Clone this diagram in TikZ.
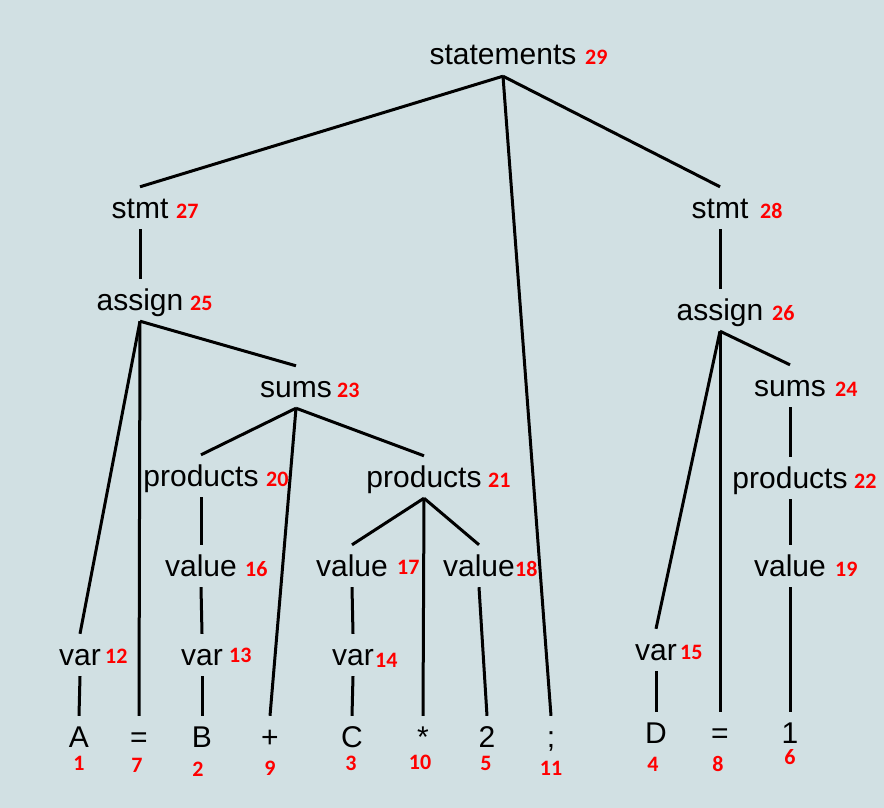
\documentclass[tikz,border=0pt]{standalone}
\usepackage{fontspec}
\usetikzlibrary{positioning}
\newfontfamily\lsans{Liberation Sans}
\newfontfamily\carl{Carlito}
\definecolor{bgblue}{RGB}{209,224,227}
\definecolor{numred}{RGB}{255,0,0}

\begin{document}
\begin{tikzpicture}[x=1pt, y=-1pt,
    word/.style={font={\lsans\fontsize{30}{36}\selectfont}, text height=24pt, text depth=4pt, inner xsep=0pt, inner ysep=7pt, anchor=base},
    leaf/.style={word, text depth=0pt, inner ysep=0pt, text height=31pt},
    num/.style={font={\carl\bfseries\fontsize{22}{26}\selectfont}, text=numred, inner sep=0pt, anchor=base west},
    leafnum/.style={num, anchor=base},
    edge/.style={line width=3pt}]
\fill[bgblue] (0,0) rectangle (884,808);
\useasboundingbox (0,0) rectangle (884,808);
\draw
    node [word] (statements) at (503,65) {statements}
    node [num] (n29) at (585,65) {29}
    node [word] (stmt1) at (140,218) {stmt}
    node [num] (n27) at (176,218) {27}
    node [word] (stmt2) at (720,218) {stmt}
    node [num] (n28) at (760,218) {28}
    node [word] (assign1) at (140,310) {assign}
    node [num] (n25) at (190,310) {25}
    node [word] (assign2) at (720,320) {assign}
    node [num] (n26) at (772,320) {26}
    node [word] (sums1) at (296,397) {sums}
    node [num] (n23) at (337,397) {23}
    node [word] (sums2) at (790,396) {sums}
    node [num] (n24) at (835,396) {24}
    node [word] (prod1) at (201,486) {products}
    node [num] (n20) at (266,486) {20}
    node [word] (prod2) at (424,487) {products}
    node [num] (n21) at (488,487) {21}
    node [word] (prod3) at (790,488) {products}
    node [num] (n22) at (854,488) {22}
    node [word] (val1) at (201,576) {value}
    node [num] (n16) at (245,576) {16}
    node [word] (val2) at (352,576) {value}
    node [num] (n17) at (397,574) {17}
    node [word] (val3) at (479,576) {value}
    node [num] (n18) at (515,576) {18}
    node [word] (val4) at (790,576) {value}
    node [num] (n19) at (835,576) {19}
    node [word] (var1) at (80,665) {var}
    node [num] (n12) at (105,663) {12}
    node [word] (var2) at (202,665) {var}
    node [num] (n13) at (229,662) {13}
    node [word] (var3) at (353,665) {var}
    node [num] (n14) at (375,667) {14}
    node [word] (var4) at (656,660) {var}
    node [num] (n15) at (680,659) {15}
;
% leaves
\draw
    node [leaf] (tA) at (79,747) {A}
    node [leafnum] (n1) at (79,770) {1}
    node [leaf] (tEqA) at (139,747) {=}
    node [leafnum] (n7) at (137,772) {7}
    node [leaf] (tB) at (202,747) {B}
    node [leafnum] (n2) at (198,776) {2}
    node [leaf] (tPlus) at (270,747) {+}
    node [leafnum] (n9) at (270,775) {9}
    node [leaf] (tC) at (352,747) {C}
    node [leafnum] (n3) at (351,770) {3}
    node [leaf] (tStar) at (423,747) {*}
    node [leafnum] (n10) at (420,769) {10}
    node [leaf] (tTwo) at (487,747) {2}
    node [leafnum] (n5) at (486,770) {5}
    node [leaf] (tSemi) at (551,747) {;}
    node [leafnum] (n11) at (551,775) {11}
    node [leaf] (tD) at (656,743) {D}
    node [leafnum] (n4) at (653,771) {4}
    node [leaf] (tEqB) at (720,743) {=}
    node [leafnum] (n8) at (718,771) {8}
    node [leaf] (tOne) at (790,743) {1}
    node [leafnum] (n6) at (790,764) {6}
;
\draw[edge] (statements.south) -- (stmt1.north);
\draw[edge] (statements.south) -- (tSemi.north);
\draw[edge] (statements.south) -- (stmt2.north);
\draw[edge] (stmt1.south) -- (assign1.north);
\draw[edge] (assign1.south) -- (var1.north);
\draw[edge] (assign1.south) -- (tEqA.north);
\draw[edge] (assign1.south) -- (sums1.north);
\draw[edge] (sums1.south) -- (prod1.north);
\draw[edge] (sums1.south) -- (tPlus.north);
\draw[edge] (sums1.south) -- (prod2.north);
\draw[edge] (prod1.south) -- (val1.north);
\draw[edge] (val1.south) -- (var2.north);
\draw[edge] (var2.south) -- (tB.north);
\draw[edge] (var1.south) -- (tA.north);
\draw[edge] (prod2.south) -- (val2.north);
\draw[edge] (prod2.south) -- (tStar.north);
\draw[edge] (prod2.south) -- (val3.north);
\draw[edge] (val2.south) -- (var3.north);
\draw[edge] (var3.south) -- (tC.north);
\draw[edge] (val3.south) -- (tTwo.north);
\draw[edge] (stmt2.south) -- (assign2.north);
\draw[edge] (assign2.south) -- (var4.north);
\draw[edge] (assign2.south) -- (tEqB.north);
\draw[edge] (assign2.south) -- (sums2.north);
\draw[edge] (sums2.south) -- (prod3.north);
\draw[edge] (prod3.south) -- (val4.north);
\draw[edge] (val4.south) -- (tOne.north);
\draw[edge] (var4.south) -- (tD.north);
\end{tikzpicture}
\end{document}
